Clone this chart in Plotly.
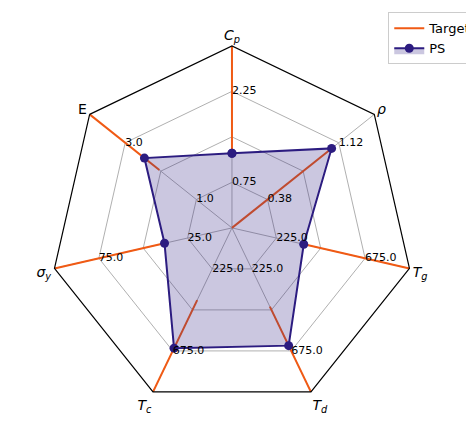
import plotly.graph_objects as go

axes = ["<i>C<sub>p</sub></i>", "<i>ρ</i>", "<i>T<sub>g</sub></i>", "<i>T<sub>d</sub></i>",
        "<i>T<sub>c</sub></i>", "<i>σ<sub>y</sub></i>", "E"]
axis_max = [3.0, 1.5, 900.0, 900.0, 900.0, 100.0, 4.0]
ps_values = [1.23, 1.05, 364.0, 646.0, 660.0, 38.0, 2.46]
# target shown as radial segments (normalised start/end per axis)
target_start = [0.41, 0.0, 0.40, 0.48, 0.44, 0.38, 0.51]
target_end = [1.0, 0.70, 1.0, 1.0, 1.0, 1.0, 1.0]
tick_fracs = [0.25, 0.75]

ps_norm = [v / m for v, m in zip(ps_values, axis_max)]

fig = go.Figure()

tr_r, tr_t = [], []
for a, s, e in zip(axes, target_start, target_end):
    tr_r += [s, e, None]
    tr_t += [a, a, None]
fig.add_trace(go.Scatterpolar(r=tr_r, theta=tr_t, mode="lines", name="Target",
                              line=dict(color="#f05a14", width=2), connectgaps=False))

fig.add_trace(go.Scatterpolar(r=ps_norm + ps_norm[:1], theta=axes + axes[:1], mode="lines+markers",
                              name="PS", fill="toself", fillcolor="rgba(46,30,130,0.25)",
                              line=dict(color="#2c1c80", width=2), marker=dict(size=9, color="#2c1c80")))

lab_r, lab_t, lab_s = [], [], []
for a, m in zip(axes, axis_max):
    for f in tick_fracs:
        lab_r.append(f)
        lab_t.append(a)
        lab_s.append(f"{round(m * f, 2):g}" if m * f % 1 else f"{m * f:.1f}")
fig.add_trace(go.Scatterpolar(r=lab_r, theta=lab_t, mode="text", text=lab_s, showlegend=False,
                              textposition="middle right", textfont=dict(size=11, color="black")))

fig.update_layout(
    width=474, height=435, margin=dict(l=0, r=0, t=0, b=0),
    paper_bgcolor="white", font=dict(family="DejaVu Sans", color="black"),
    polar=dict(
        domain=dict(x=[0.078, 0.867], y=[0.076, 0.913]),
        gridshape="linear", bgcolor="white",
        radialaxis=dict(range=[0, 1], tickvals=[0.25, 0.5, 0.75, 1.0], showticklabels=False,
                        gridcolor="#b0b0b0", showline=False, ticks=""),
        angularaxis=dict(direction="clockwise", rotation=90, gridcolor="#b0b0b0",
                         linecolor="black", linewidth=1.2, ticks="", tickfont=dict(size=14)),
    ),
    legend=dict(x=0.99, y=0.99, xanchor="right", yanchor="top", bordercolor="#cccccc",
                borderwidth=1, font=dict(size=13), bgcolor="white"),
)
fig.write_html("out.html")
